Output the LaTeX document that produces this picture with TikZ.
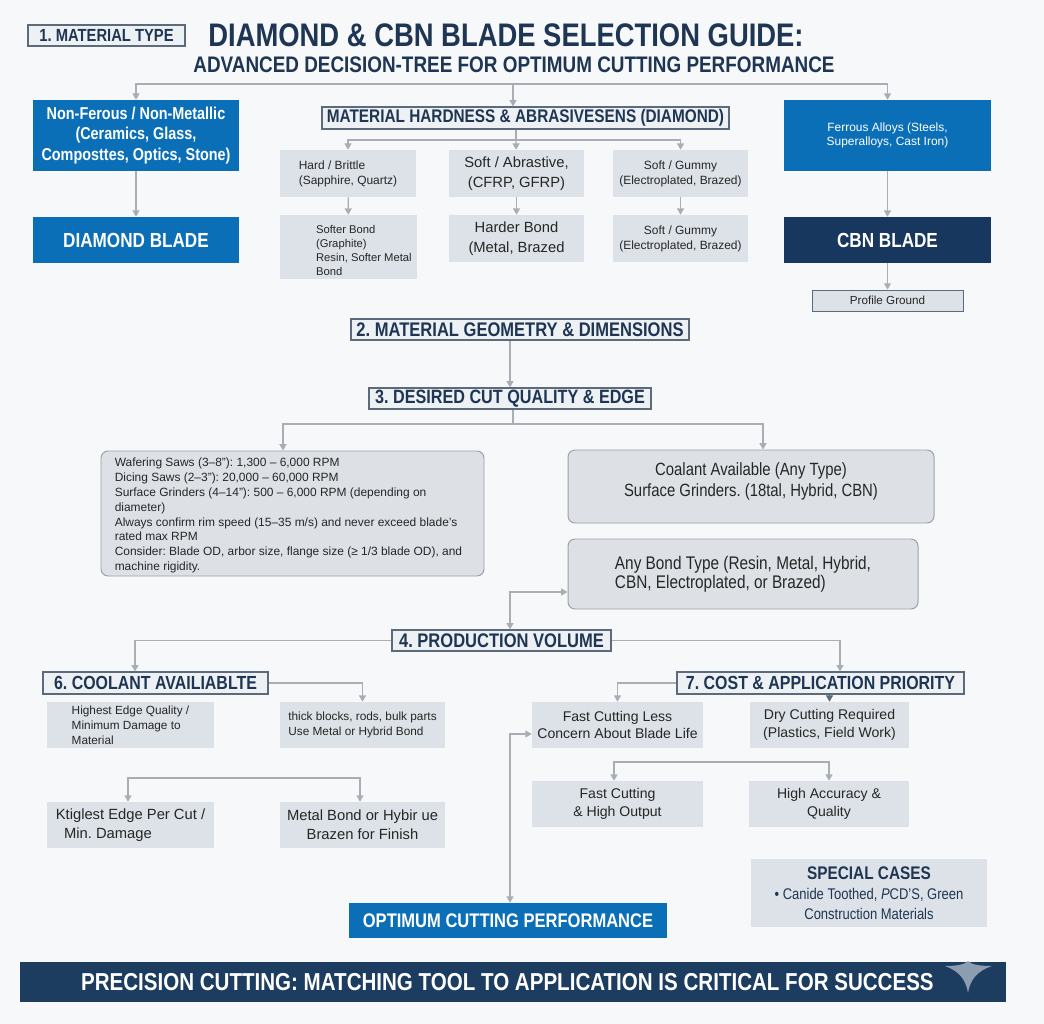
\documentclass[tikz,border=0pt]{standalone}
\usepackage{fontspec}
\setmainfont{Liberation Sans}
\newfontfamily\hfont[FakeStretch=0.84]{Liberation Sans}
\usepackage{xcolor}
\definecolor{blueA}{HTML}{0B6FB8}
\definecolor{navyA}{HTML}{17375E}
\definecolor{navyB}{HTML}{1D3D60}
\definecolor{navyT}{HTML}{1E3553}
\definecolor{grayF}{HTML}{DDE2E8}
\definecolor{headF}{HTML}{EEF1F4}
\definecolor{edgeC}{HTML}{5B6B7B}
\definecolor{linkC}{HTML}{A9AEB4}
\definecolor{bgC}{HTML}{F7F8FA}
\definecolor{roundF}{HTML}{DDE1E6}
\definecolor{roundE}{HTML}{9AA1A9}
\definecolor{gemC}{HTML}{8C9DB1}
\usepackage{tikz}
\usetikzlibrary{arrows.meta, positioning, calc}
\frenchspacing

\begin{document}
\begin{tikzpicture}[
    x=0.025cm, y=-0.025cm,
    >={Triangle[width=5pt,length=4.5pt]},
    sz/.style 2 args={minimum width=#1*0.025cm, minimum height=#2*0.025cm},
    head/.style={draw=edgeC, fill=headF, line width=0.9pt, inner sep=0pt, text=navyT,
                 font=\hfont\bfseries\fontsize{14}{16}\selectfont},
    bluebox/.style={fill=blueA, text=white, inner sep=0pt, align=center,
                    font=\hfont\bfseries\fontsize{14.5}{17}\selectfont},
    graybox/.style={fill=grayF, text=black!85, inner sep=0pt, align=center,
                    font=\fontsize{8.5}{10.7}\selectfont},
    roundbox/.style={draw=roundE, fill=roundF, line width=0.7pt, rounded corners=5pt,
                     inner sep=0pt, text=black!85},
    link/.style={draw=linkC, line width=0.9pt}
]

% ── Background ──
\fill[bgC] (0,0) rectangle (1044,1024);
\useasboundingbox (0,0) rectangle (1044,1024);

% ── Title ──
\node[head, sz={157}{21}, font=\hfont\bfseries\fontsize{12.5}{14}\selectfont] (step1) at (106.5,35.5) {1. MATERIAL TYPE};
\node[text=navyT, font=\hfont\bfseries\fontsize{23.2}{26}\selectfont] (title) at (506,35) {DIAMOND \& CBN BLADE SELECTION GUIDE:};
\node[text=navyT, font=\hfont\bfseries\fontsize{16}{18}\selectfont] (subtitle) at (514,65) {ADVANCED DECISION-TREE FOR OPTIMUM CUTTING PERFORMANCE};

% ── Material type ──
\node[bluebox, sz={206}{71}, font=\hfont\bfseries\fontsize{12.2}{14.5}\selectfont] (nonfer) at (136,135.5)
    {Non-Ferous / Non-Metallic\\(Ceramics, Glass,\\Composttes, Optics, Stone)};
\node[bluebox, sz={206}{46}] (diamond) at (136,240) {DIAMOND BLADE};

\node[bluebox, sz={207}{71}, font=\fontsize{8.5}{10}\selectfont] (ferrous) at (887.5,135.5)
    {Ferrous Alloys (Steels,\\Superalloys, Cast Iron)};
\node[bluebox, fill=navyA, sz={207}{46}] (cbn) at (887.5,240) {CBN BLADE};
\node[graybox, draw=edgeC, line width=0.6pt, sz={151}{21}, font=\fontsize{8.3}{10}\selectfont] (profile) at (887.5,300.5) {Profile Ground};

% ── Hardness ──
\node[head, sz={407}{22}, font=\hfont\bfseries\fontsize{13}{15}\selectfont] (hardness) at (525.5,118)
    {MATERIAL HARDNESS \& ABRASIVESENS (DIAMOND)};
\node[graybox, align=left, sz={136}{47}] (hard) at (348,173.5) {Hard / Brittle\\(Sapphire, Quartz)};
\node[graybox, sz={137}{64}] (softer) at (348.5,247) {};
\node[anchor=north west, inner sep=0pt, align=left, text=black!85, font=\fontsize{8}{10}\selectfont] (softertxt)
    at ([xshift=36*0.025cm, yshift=-10*0.025cm]softer.north west) {Softer Bond\\(Graphite)\\Resin, Softer Metal\\Bond};
\node[graybox, sz={135}{47}, font=\fontsize{10.5}{14}\selectfont] (abr) at (516.5,173.5) {Soft / Abrastive,\\(CFRP, GFRP)};
\node[graybox, sz={135}{47}, font=\fontsize{10.5}{14}\selectfont] (harder) at (516.5,238.5) {Harder Bond\\(Metal, Brazed};
\node[graybox, sz={135}{47}] (gummy) at (680.5,173.5) {Soft / Gummy\\(Electroplated, Brazed)};
\node[graybox, sz={135}{47}] (gummyb) at (680.5,238.5) {Soft / Gummy\\(Electroplated, Brazed)};

% ── Geometry & quality ──
\node[head, sz={338}{21}] (geom) at (520,329.5) {2. MATERIAL GEOMETRY \& DIMENSIONS};
\node[head, sz={282}{21}, font=\hfont\bfseries\fontsize{13.7}{16}\selectfont] (quality) at (510,398.5) {3. DESIRED CUT QUALITY \& EDGE};

\node[roundbox, sz={383}{125}] (wafer) at (292.5,513.5) {};
\node[anchor=north west, inner sep=0pt, align=left, text=black!85, font=\fontsize{8.5}{10.6}\selectfont] (wafertxt)
    at ([xshift=14*0.025cm, yshift=-7*0.025cm]wafer.north west)
    {Wafering Saws (3–8"): 1,300 – 6,000 RPM\\
     Dicing Saws (2–3"): 20,000 – 60,000 RPM\\
     Surface Grinders (4–14"): 500 – 6,000 RPM (depending on\\
     diameter)\\
     Always confirm rim speed (15–35 m/s) and never exceed blade’s\\
     rated max RPM\\
     Consider: Blade OD, arbor size, flange size (≥ 1/3 blade OD), and\\
     machine rigidity.};
\node[roundbox, sz={366}{73}, align=center, font=\hfont\fontsize{12.6}{14.5}\selectfont] (coalant) at (751,486.5)
    {Coalant Available (Any Type)\\Surface Grinders. (18tal, Hybrid, CBN)\\[-4.5pt]};
\node[roundbox, sz={350}{70}, align=left, font=\hfont\fontsize{13}{13.5}\selectfont] (anybond) at (743,574)
    {Any Bond Type (Resin, Metal, Hybrid,\\CBN, Electroplated, or Brazed)};

% ── Production volume ──
\node[head, sz={219}{21}] (prod) at (501.5,640.5) {4. PRODUCTION VOLUME};
\node[head, sz={225}{22}, font=\hfont\bfseries\fontsize{13.5}{15}\selectfont] (coolant) at (155.5,683) {6. COOLANT AVAILIABLTE};
\node[head, sz={287}{22}, font=\hfont\bfseries\fontsize{13.5}{15}\selectfont] (cost) at (820.5,683) {7. COST \& APPLICATION PRIORITY};

\node[graybox, align=left, sz={167}{46}, font=\fontsize{8.4}{10.7}\selectfont] (highest) at (130.5,725)
    {Highest Edge Quality /\\Minimum Damage to\\Material};
\node[graybox, align=left, sz={165}{46}, font=\fontsize{8.4}{10.7}\selectfont] (thick) at (362.5,725)
    {thick blocks, rods, bulk parts\\Use Metal or Hybrid Bond};
\node[graybox, align=left, sz={167}{46}, font=\fontsize{10.5}{13.5}\selectfont] (ktig) at (130.5,825)
    {Ktiglest Edge Per Cut /\\\ \ Min. Damage};
\node[graybox, sz={165}{46}, font=\fontsize{10.5}{13.5}\selectfont] (metal) at (362.5,825)
    {Metal Bond or Hybir ue\\Brazen for Finish};

\node[graybox, sz={171}{46}, font=\fontsize{10}{12.5}\selectfont] (fastless) at (617.5,725)
    {Fast Cutting Less\\Concern About Blade Life};
\node[graybox, sz={159}{46}, font=\fontsize{10}{13}\selectfont] (dry) at (829.5,725)
    {Dry Cutting Required\\(Plastics, Field Work)};
\node[graybox, sz={171}{46}, font=\fontsize{10}{12.5}\selectfont] (fastout) at (617.5,804)
    {Fast Cutting\\\& High Output};
\node[graybox, sz={160}{46}, font=\fontsize{10}{13}\selectfont] (accur) at (829,804)
    {High Accuracy \&\\Quality};

\node[graybox, sz={236}{68}, text=navyT, font=\hfont\fontsize{11}{14}\selectfont] (special) at (869,893)
    {{\bfseries\fontsize{13}{15}\selectfont SPECIAL CASES}\\• Canide Toothed, \textit{P}CD’S, Green\\Construction Materials};

% ── Result & banner ──
\node[bluebox, sz={318}{35}, font=\hfont\bfseries\fontsize{14}{15}\selectfont] (optimum) at (508,920.5) {OPTIMUM CUTTING PERFORMANCE};
\node[bluebox, fill=navyB, sz={986}{40}, font=\hfont\bfseries\fontsize{17.4}{19}\selectfont] (banner) at (513,982)
    {PRECISION CUTTING: MATCHING TOOL TO APPLICATION IS CRITICAL FOR SUCCESS\hspace{8pt}};
\fill[gemC] (945,966) .. controls (959,966) and (965,964) .. (968,961)
    .. controls (971,964) and (977,966) .. (992,966)
    .. controls (977,971) and (970,980) .. (968,993)
    .. controls (966,980) and (959,971) .. (945,966);

% ── Connectors ──
\coordinate (topbar) at (513,84);
\draw[link, ->] (topbar) -| (nonfer);
\draw[link, ->] (topbar) -| (ferrous);
\draw[link, ->] (topbar) -- (hardness.north -| topbar);
\draw[link, ->] (nonfer) -- (diamond);
\draw[link, ->] (ferrous) -- (cbn);
\draw[link, ->] (cbn) -- (profile);

\coordinate (hbar) at (516,140);
\draw[link] (hardness.south -| hbar) -- (hbar);
\draw[link, ->] (hbar) -| (hard);
\draw[link, ->] (hbar) -| (gummy);
\draw[link, ->] (hbar) -- (abr);
\draw[link, ->] (hard) -- (softer);
\draw[link, ->] (abr) -- (harder);
\draw[link, ->] (gummy) -- (gummyb);

\draw[link, ->] (geom.south -| quality.north) -- (quality.north);
\coordinate (qbar) at (513,424);
\draw[link] (quality.south -| qbar) -- (qbar);
\draw[link, ->] (qbar) -| (wafer.north -| 283,0);
\draw[link, ->] (qbar) -| (coalant.north -| 763,0);

\draw[link, <->] (prod.north -| 510,0) |- (anybond.west |- 0,592);
\draw[link, ->] (prod.west) -| (coolant.north -| 135,0);
\draw[link, ->] (prod.east) -| (cost.north -| 840,0);

\draw[link, ->] (coolant.east) -| (thick);
\draw[link, <->] (ktig.north -| 128,0) |- (244,778) -| (metal.north -| 360,0);

\draw[link, ->] (cost.west) -| (fastless);
\draw[->, draw=edgeC, line width=0.6pt] (cost.south -| dry) -- (dry.north);
\draw[link, <->] (fastout.north -| 614,0) |- (720,762) -| (accur.north);
\draw[link, <->] (optimum.north -| 510,0) |- (fastless.west |- 0,734);
\end{tikzpicture}
\end{document}
